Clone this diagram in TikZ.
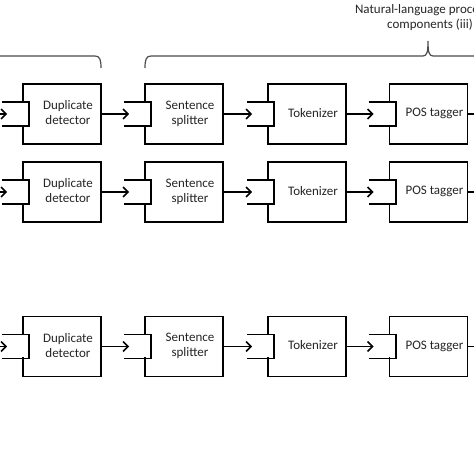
\documentclass[tikz,border=0pt]{standalone}
\usepackage{fontspec}
\setmainfont{Carlito}
\usetikzlibrary{arrows.meta}

\tikzset{
  comp/.style={draw=black, line width=1.6pt, fill=white, minimum width=78pt,
    minimum height=60pt, inner sep=0pt,
    label={[lbl, xshift=6pt]center:#1}},
  lbl/.style={text=black!85, align=center, inner sep=0pt, text depth=3pt,
    font=\fontsize{13}{15}\selectfont},
  port/.style={draw=black, line width=1.6pt, line join=miter},
  link/.style={draw=black, line width=1.6pt, -{Straight Barb[length=5pt,width=10pt,line width=1.6pt]}},
  brace/.style={draw=black!70, line width=1.2pt}
}

\begin{document}
\begin{tikzpicture}[x=1pt,y=1pt]
\useasboundingbox (0,0) rectangle (474,474);
\fill[white] (0,0) rectangle (474,474);
\clip (0,0) rectangle (474,474);

% braces over the stages
\draw[brace] (-10,418) -- (95,418) .. controls (100,418) and (101,414) .. (101,406);
\draw[brace] (145,406) .. controls (145,414) and (146,418) .. (151,418) -- (423,418)
  .. controls (427,418) and (428,422) .. (428,433)
  .. controls (428,422) and (429,418) .. (433,418) -- (490,418);
\node[lbl, anchor=south] (nlp) at (430,442) {Natural-language processing\\components (iii)};

% the three pipelines
\foreach \r/\y in {1/360, 2/282, 3/127.5} {
  \node[comp={Duplicate\\detector}] (dup\r) at (62,\y) {};
  \node[comp={Sentence\\splitter}] (sen\r) at (184,\y) {};
  \node[comp={Tokenizer}] (tok\r) at (307,\y) {};
  \node[comp={POS tagger}] (pos\r) at (428.5,\y) {};
  \foreach \b in {dup,sen,tok,pos} {
    \fill[white] ([xshift=-19pt,yshift=-11pt]\b\r.west) rectangle ([xshift=6pt,yshift=11pt]\b\r.west);
    \draw[port] ([xshift=-20pt,yshift=12pt]\b\r.west) -- ++(27pt,0) -- ++(0,-24pt) -- ++(-27pt,0);
    \coordinate (\b\r-in) at ([xshift=-15pt]\b\r.west);
  }
  \coordinate (in\r) at ([xshift=-40pt]dup\r.west);
  \coordinate (out\r) at ([xshift=20pt]pos\r.east);
  \draw[link] (in\r) -- (dup\r-in);
  \draw[link] (dup\r.east) -- (sen\r-in);
  \draw[link] (sen\r.east) -- (tok\r-in);
  \draw[link] (tok\r.east) -- (pos\r-in);
  \draw[port] (pos\r.east) -- (out\r);
}
\end{tikzpicture}
\end{document}
